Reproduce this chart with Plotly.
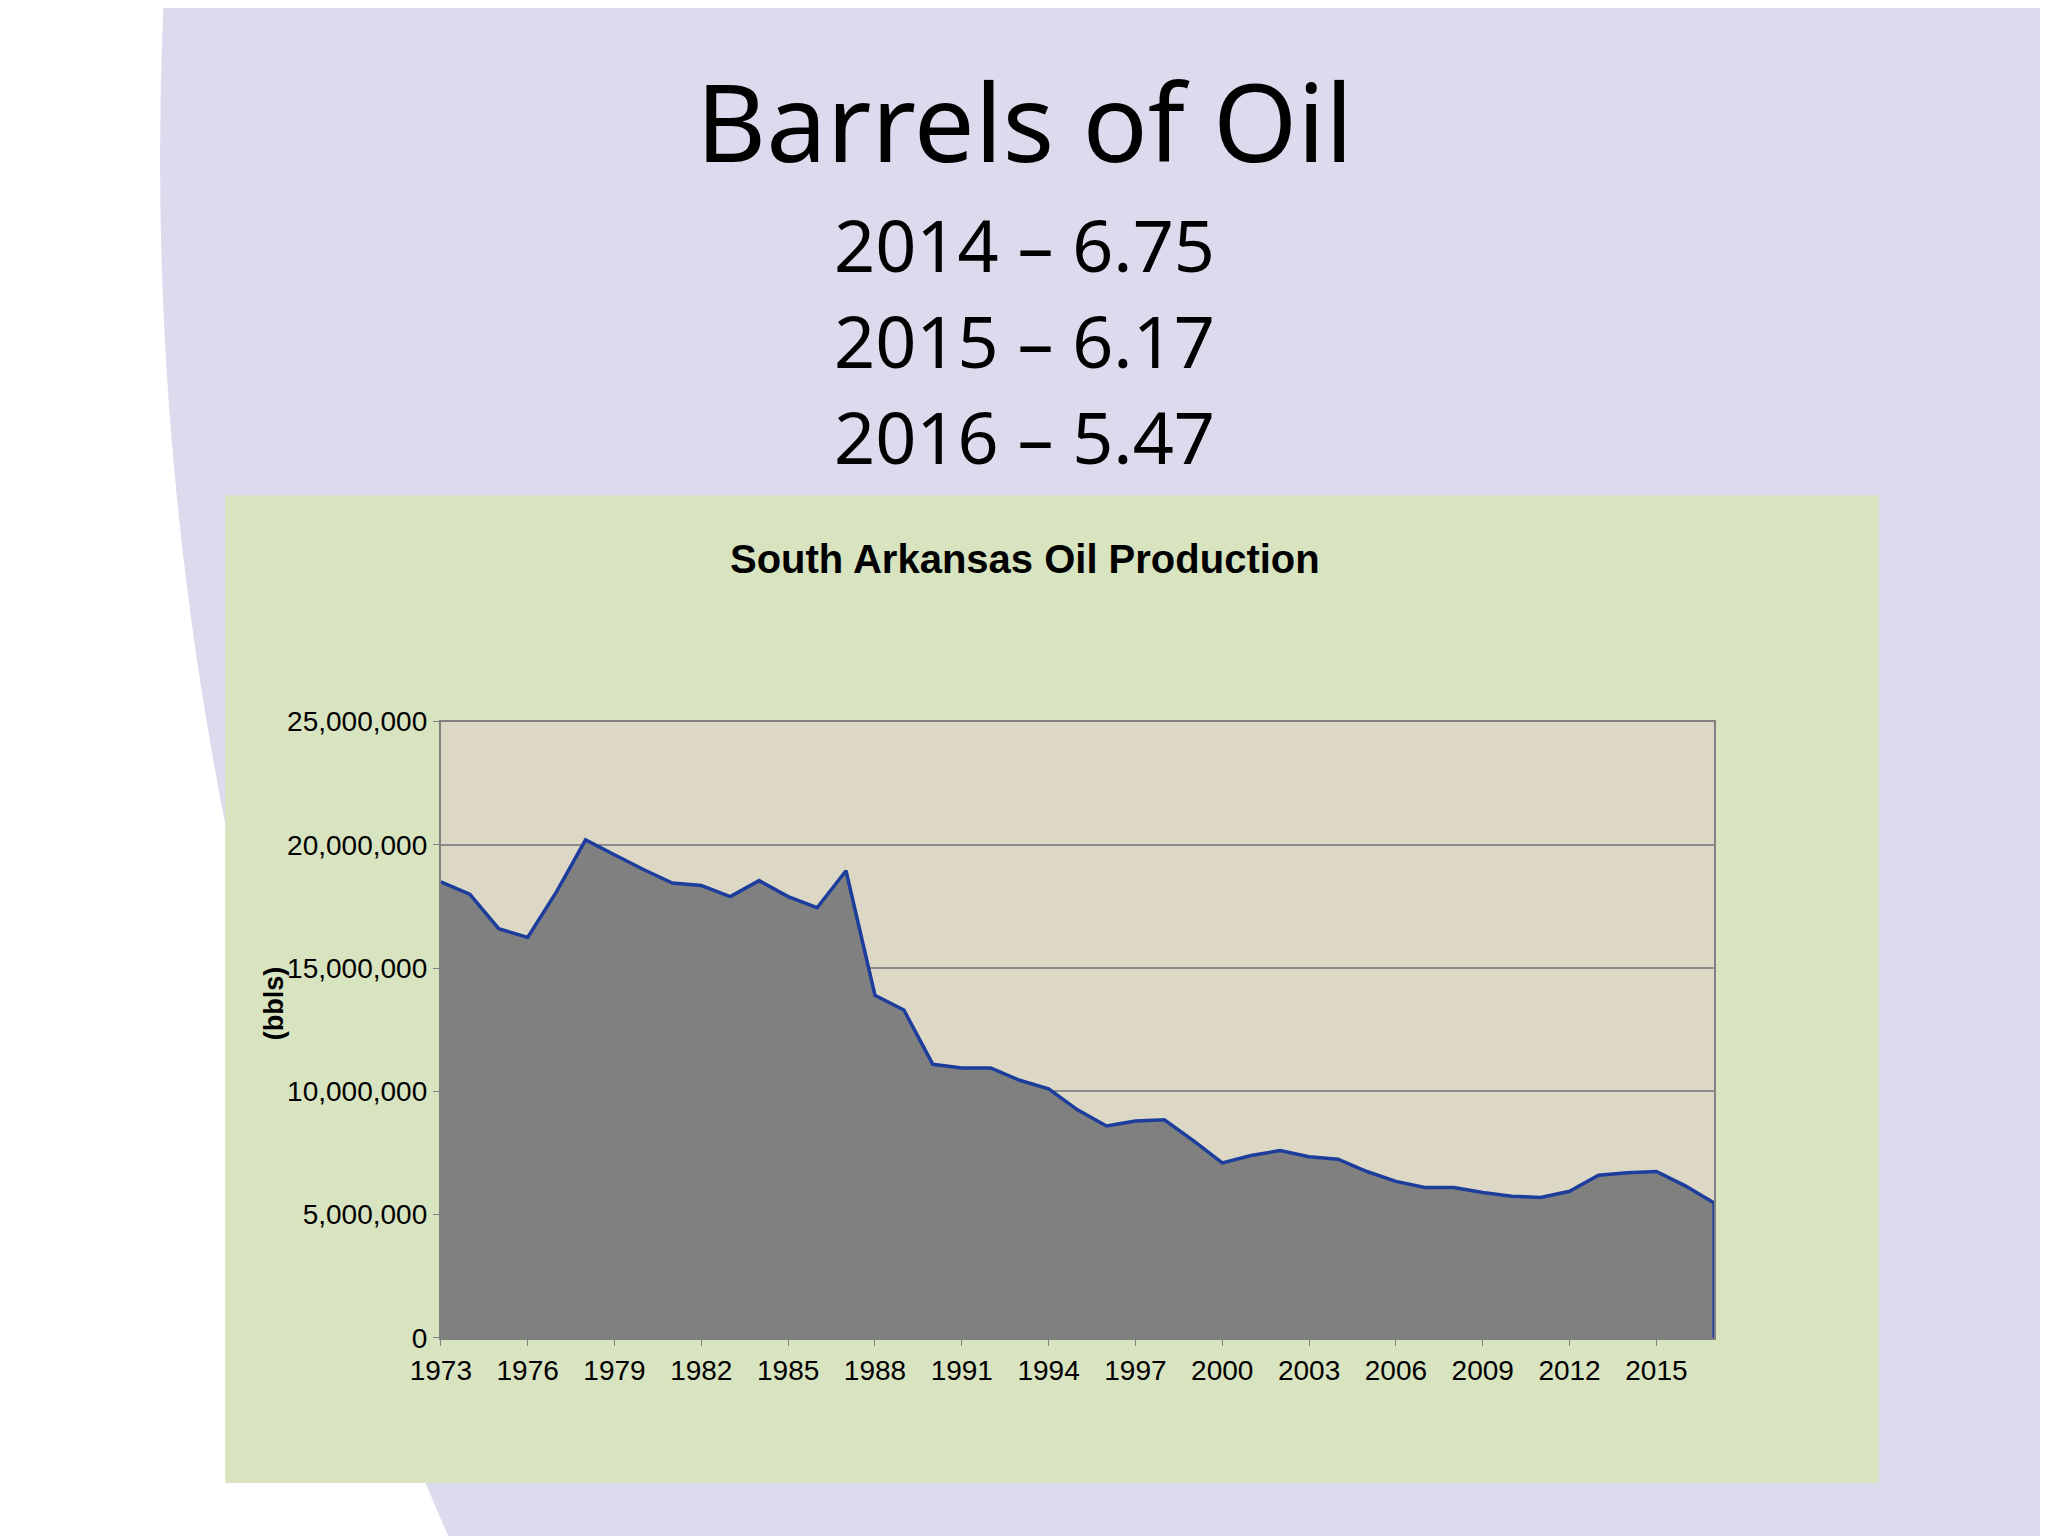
import plotly.graph_objects as go

years = list(range(1973, 2018))
barrels = [18.5, 18.0, 16.6, 16.25, 18.1, 20.2, 19.6, 19.0, 18.45, 18.35,
           17.9, 18.55, 17.9, 17.45, 18.95, 13.9, 13.3, 11.1, 10.95, 10.95,
           10.45, 10.1, 9.25, 8.6, 8.8, 8.85, 8.0, 7.1, 7.4, 7.6,
           7.35, 7.25, 6.75, 6.35, 6.1, 6.1, 5.9, 5.75, 5.7, 5.95,
           6.6, 6.7, 6.75, 6.17, 5.47]
barrels = [v * 1e6 for v in barrels]
headline_lines = ["2014 – 6.75", "2015 – 6.17", "2016 – 5.47"]
tick_years = list(range(1973, 2017, 3))

W, H = 2048, 1536
def py(pix):
    return 1 - pix / H

fig = go.Figure()
fig.add_trace(go.Scatter(
    x=years, y=barrels, mode="lines", fill="tozeroy",
    fillcolor="#808080", line=dict(color="#1c3d9c", width=3.5),
    hoverinfo="x+y", showlegend=False,
))
# closing edge at the last year
fig.add_trace(go.Scatter(
    x=[years[-1], years[-1]], y=[0, barrels[-1]], mode="lines",
    line=dict(color="#1c3d9c", width=3.5), showlegend=False, hoverinfo="skip",
))

shapes = [
    # big lavender disc behind everything
    dict(type="circle", xref="paper", yref="paper", layer="below",
         x0=0.060, x1=3.508, y0=-1.388, y1=3.210,
         fillcolor="#dcdbee", line=dict(width=0)),
    # green chart panel
    dict(type="rect", xref="paper", yref="paper", layer="below",
         x0=189 / W, x1=1868 / W, y0=py(1490), y1=py(482),
         fillcolor="#d8e3bf", line=dict(width=0)),
    # tan plot area
    dict(type="rect", xref="x domain", yref="y domain", layer="below",
         x0=0, x1=1, y0=0, y1=1, fillcolor="#ddd8c5", line=dict(width=0)),
]

def label(text, x, y, size, family="Noto Sans", angle=0):
    return dict(text=text, x=x / W, y=py(y), xref="paper", yref="paper",
                xanchor="center", yanchor="middle", showarrow=False,
                textangle=angle, font=dict(family=family, size=size, color="black"))

annotations = [
    label("Barrels of Oil", 1001, 100, 108),
    label("<b>South Arkansas Oil Production</b>", 1001, 547, 40, "Liberation Sans"),
    label("<b>(bbls)</b>", 238, 1000, 27, "Liberation Sans", -90),
]
for i, line in enumerate(headline_lines):
    annotations.append(label(line, 1001, 226 + 97.5 * i, 72))

axis_common = dict(showline=True, linecolor="#808080", linewidth=2, mirror=True,
                   ticks="outside", ticklen=6, tickcolor="#808080",
                   tickfont=dict(family="Liberation Sans", size=28, color="black"))

fig.update_layout(
    width=W, height=H, margin=dict(l=0, r=0, t=0, b=0),
    paper_bgcolor="white", plot_bgcolor="rgba(0,0,0,0)",
    shapes=shapes, annotations=annotations,
    xaxis=dict(domain=[408 / W, 1701 / W], range=[1973, 2017],
               tickvals=tick_years, ticktext=[str(t) for t in tick_years],
               showgrid=False, **axis_common),
    yaxis=dict(domain=[py(1342), py(713)], range=[0, 25e6], dtick=5e6,
               tickformat=",", showgrid=True, gridcolor="#8a8a8a", gridwidth=1.5,
               **axis_common),
)

fig.write_html("out.html")
